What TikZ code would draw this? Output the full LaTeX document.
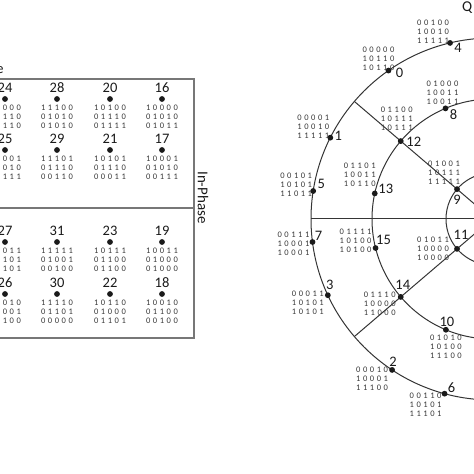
\documentclass[tikz,border=0pt]{standalone}
\usepackage{fontspec}
\setmainfont{Carlito}
\newfontfamily\bitsfont[LetterSpace=30]{Carlito}
\usetikzlibrary{positioning,calc}
\definecolor{Ink}{HTML}{1A1A1A}
\definecolor{Wire}{HTML}{353535}
\definecolor{Frame}{HTML}{777777}
\definecolor{BitsC}{HTML}{383838}

\begin{document}
\begin{tikzpicture}[x=1pt,y=1pt,
    dot/.style={circle,fill=Ink,inner sep=0pt,minimum size=5.8pt},
    num/.style={inner sep=0pt,text=Ink,font=\fontsize{14.5}{16}\selectfont},
    bits/.style={inner sep=0pt,align=center,text=BitsC,
      font=\bitsfont\fontsize{8.5}{9}\selectfont},
    ring/.style={draw=Wire,line width=1pt},
    frame/.style={draw=Frame,line width=1.3pt}]
  \useasboundingbox (0,0) rectangle (474,474);

  % in-phase box
  \coordinate (boxSW) at (-20,136);
  \coordinate (boxNE) at (194,395);
  \coordinate (divL) at (-20,266);
  \coordinate (divR) at (194,266);
  \draw[frame] (boxSW) rectangle (boxNE);
  \draw[frame] (divL) -- (divR);
  \node[num,rotate=-90,font=\fontsize{15}{16}\selectfont] (iphase) at (203,276.5) {In-Phase};
  \node[num] (etail) at (0,404) {e};

  \node[dot] (g24) at (5,375) {};
  \node[num, above=3pt of g24] {24};
  \node[bits, below=3pt of g24] {11000\\01110\\01110};
  \node[dot] (g28) at (57,375) {};
  \node[num, above=3pt of g28] {28};
  \node[bits, below=3pt of g28] {11100\\01010\\01010};
  \node[dot] (g20) at (110,375) {};
  \node[num, above=3pt of g20] {20};
  \node[bits, below=3pt of g20] {10100\\01110\\01111};
  \node[dot] (g16) at (162,375) {};
  \node[num, above=3pt of g16] {16};
  \node[bits, below=3pt of g16] {10000\\01010\\01011};

  \node[dot] (g25) at (5,324) {};
  \node[num, above=3pt of g25] {25};
  \node[bits, below=3pt of g25] {11001\\01010\\00111};
  \node[dot] (g29) at (57,324) {};
  \node[num, above=3pt of g29] {29};
  \node[bits, below=3pt of g29] {11101\\01110\\00110};
  \node[dot] (g21) at (110,324) {};
  \node[num, above=3pt of g21] {21};
  \node[bits, below=3pt of g21] {10101\\01110\\00011};
  \node[dot] (g17) at (162,324) {};
  \node[num, above=3pt of g17] {17};
  \node[bits, below=3pt of g17] {10001\\01010\\00111};

  \node[dot] (g27) at (5,232) {};
  \node[num, above=3pt of g27] {27};
  \node[bits, below=3pt of g27] {11011\\01101\\00101};
  \node[dot] (g31) at (57,232) {};
  \node[num, above=3pt of g31] {31};
  \node[bits, below=3pt of g31] {11111\\01001\\00100};
  \node[dot] (g23) at (110,232) {};
  \node[num, above=3pt of g23] {23};
  \node[bits, below=3pt of g23] {10111\\01100\\01100};
  \node[dot] (g19) at (162,232) {};
  \node[num, above=3pt of g19] {19};
  \node[bits, below=3pt of g19] {10011\\01000\\01000};

  \node[dot] (g26) at (5,180) {};
  \node[num, above=3pt of g26] {26};
  \node[bits, below=3pt of g26] {11010\\01001\\01100};
  \node[dot] (g30) at (57,180) {};
  \node[num, above=3pt of g30] {30};
  \node[bits, below=3pt of g30] {11110\\01101\\00000};
  \node[dot] (g22) at (110,180) {};
  \node[num, above=3pt of g22] {22};
  \node[bits, below=3pt of g22] {10110\\01000\\01101};
  \node[dot] (g18) at (162,180) {};
  \node[num, above=3pt of g18] {18};
  \node[bits, below=3pt of g18] {10010\\01100\\00100};

  % circular constellation
  \coordinate (C) at (492,255);
  \draw[ring] (C) circle (181);
  \draw[ring] (C) circle (120);
  \draw[ring] (C) circle (46);
  \coordinate (axL) at ($(C)+(180:181)$);
  \coordinate (spokeU) at ($(C)+(139.5:181)$);
  \coordinate (spokeD) at ($(C)+(-139.5:181)$);
  \draw[ring] (axL) -- (C);
  \draw[ring] (spokeU) -- (C);
  \draw[ring] (spokeD) -- (C);
  \node[num,font=\fontsize{15}{16}\selectfont,anchor=west] (qtail) at (462,466) {Q};

  % outer ring
  \node[dot] (q4) at ($(C)+(103.4:181)$) {};
  \node[num] at ($(q4)+(8,-5)$) {4};
  \node[bits] at ($(q4)+(-17,11)$) {00100\\10010\\11111};
  \node[dot] (q0) at ($(C)+(124.9:181)$) {};
  \node[num] at ($(q0)+(11,-2)$) {0};
  \node[bits] at ($(q0)+(-10,12)$) {00000\\10110\\10110};
  \node[dot] (q1) at ($(C)+(153.3:181)$) {};
  \node[num] at ($(q1)+(8,2)$) {1};
  \node[bits] at ($(q1)+(-17,11)$) {00001\\10010\\11111};
  \node[dot] (q5) at ($(C)+(171.1:181)$) {};
  \node[num] at ($(q5)+(8,7)$) {5};
  \node[bits] at ($(q5)+(-17,6)$) {00101\\10101\\11011};
  \node[dot] (q7) at ($(C)+(-172.7:181)$) {};
  \node[num] at ($(q7)+(6,6)$) {7};
  \node[bits] at ($(q7)+(-19,-2)$) {00111\\10001\\10001};
  \node[dot] (q3) at ($(C)+(-155.1:181)$) {};
  \node[num] at ($(q3)+(2,10)$) {3};
  \node[bits] at ($(q3)+(-20,-8)$) {00011\\10101\\10101};
  \node[dot] (q2) at ($(C)+(-123.5:181)$) {};
  \node[num] at ($(q2)+(1,8)$) {2};
  \node[bits] at ($(q2)+(-20,-9)$) {00010\\10001\\11100};
  \node[dot] (q6) at ($(C)+(-105.2:181)$) {};
  \node[num] at ($(q6)+(7,6)$) {6};
  \node[bits] at ($(q6)+(-19,-11)$) {00110\\10101\\11101};

  % middle ring
  \node[dot] (q8) at ($(C)+(112.8:120)$) {};
  \node[num] at ($(q8)+(8,-6)$) {8};
  \node[bits] at ($(q8)+(-3,16)$) {01000\\10011\\10011};
  \node[dot] (q12) at ($(C)+(139.5:120)$) {};
  \node[num] at ($(q12)+(13,-1)$) {12};
  \node[bits] at ($(q12)+(-4,22)$) {01100\\10111\\10111};
  \node[dot] (q13) at ($(C)+(167.7:120)$) {};
  \node[num] at ($(q13)+(11,5)$) {13};
  \node[bits] at ($(q13)+(-15,19)$) {01101\\10011\\10110};
  \node[dot] (q15) at ($(C)+(-166:120)$) {};
  \node[num] at ($(q15)+(8,8)$) {15};
  \node[bits] at ($(q15)+(-20,7)$) {01111\\10100\\10100};
  \node[dot] (q14) at ($(C)+(-139.5:120)$) {};
  \node[num] at ($(q14)+(2,12)$) {14};
  \node[bits] at ($(q14)+(-21,-7)$) {01110\\10000\\11000};
  \node[dot] (q10) at ($(C)+(-112.6:120)$) {};
  \node[num] at ($(q10)+(1,8)$) {10};
  \node[bits] at ($(q10)+(0,-17)$) {01010\\10100\\11100};

  % inner ring
  \node[dot] (q9) at ($(C)+(139.5:46)$) {};
  \node[num] at ($(q9)+(0,-11)$) {9};
  \node[bits] at ($(q9)+(-13,16)$) {01001\\10111\\11111};
  \node[dot] (q11) at ($(C)+(-139.5:46)$) {};
  \node[num] at ($(q11)+(4,14)$) {11};
  \node[bits] at ($(q11)+(-24,0)$) {01011\\10000\\10000};
\end{tikzpicture}
\end{document}
